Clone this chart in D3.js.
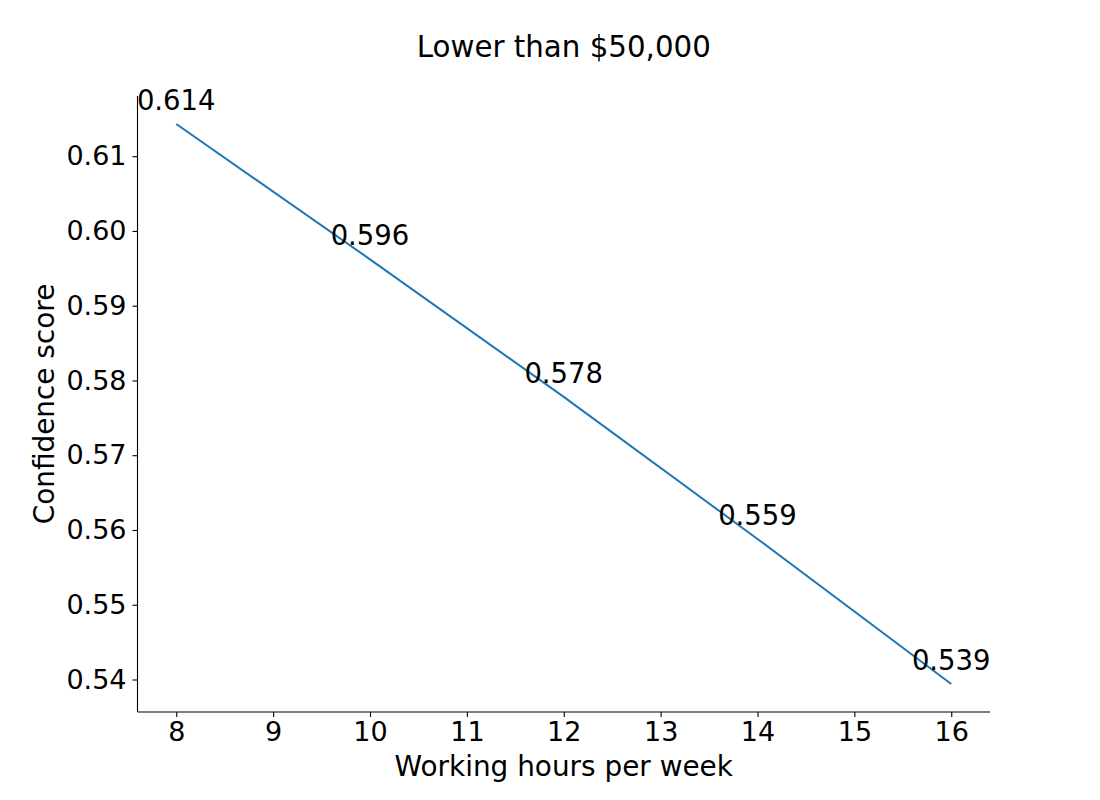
<!DOCTYPE html>
<html>
<head>
<meta charset="utf-8">
<script src="https://cdn.jsdelivr.net/npm/d3@7"></script>
<style>
  html, body { margin: 0; padding: 0; background: #fff; }
  text { font-family: "DejaVu Sans", sans-serif; fill: #000; }
</style>
</head>
<body>
<svg id="chart" width="1100" height="800"></svg>
<script>
const hours = [8, 10, 12, 14, 16];
const scores = [0.6143, 0.5962, 0.5778, 0.5588, 0.5394];
const xTicks = [8, 9, 10, 11, 12, 13, 14, 15, 16];
const yTicks = [0.54, 0.55, 0.56, 0.57, 0.58, 0.59, 0.60, 0.61];
const title = "Lower than $50,000";
const xLabel = "Working hours per week";
const yLabel = "Confidence score";

const W = 1100, H = 800;
const m = { left: 137.5, right: 990, top: 96, bottom: 712 };
const svg = d3.select("#chart");

const xMin = d3.min(hours), xMax = d3.max(hours);
const yMin = d3.min(scores), yMax = d3.max(scores);
const xPad = (xMax - xMin) * 0.05, yPad = (yMax - yMin) * 0.05;

const x = d3.scaleLinear().domain([xMin - xPad, xMax + xPad]).range([m.left, m.right]);
const y = d3.scaleLinear().domain([yMin - yPad, yMax + yPad]).range([m.bottom, m.top]);

// axes
const xAxis = svg.append("g").attr("transform", `translate(0,${m.bottom})`)
  .call(d3.axisBottom(x).tickValues(xTicks).tickFormat(d3.format("d")).tickSize(5).tickPadding(5));
const yAxis = svg.append("g").attr("transform", `translate(${m.left},0)`)
  .call(d3.axisLeft(y).tickValues(yTicks).tickFormat(d3.format(".2f")).tickSize(5).tickPadding(6));

[xAxis, yAxis].forEach(g => {
  g.select(".domain").attr("stroke", "#000").attr("stroke-width", 1.1);
  g.selectAll(".tick line").attr("stroke", "#000").attr("stroke-width", 1.1);
  g.selectAll(".tick text").attr("font-size", 27).attr("font-family", "DejaVu Sans").attr("fill", "#000");
});
xAxis.select(".domain").attr("d", `M${m.left},0H${m.right}`);
yAxis.select(".domain").attr("d", `M0,${m.bottom}V${m.top}`);

// line
const line = d3.line().x((d, i) => x(hours[i])).y(d => y(d));
svg.append("path").datum(scores)
  .attr("d", line)
  .attr("fill", "none")
  .attr("stroke", "#1f77b4")
  .attr("stroke-width", 2);

// value labels
svg.append("g").selectAll("text").data(scores).join("text")
  .attr("x", (d, i) => x(hours[i]))
  .attr("y", d => y(d))
  .attr("dy", -14)
  .attr("text-anchor", "middle")
  .attr("font-size", 27.5)
  .text(d => d3.format(".3f")(d));

// title
svg.append("text")
  .attr("x", (m.left + m.right) / 2).attr("y", 57)
  .attr("text-anchor", "middle").attr("font-size", 29.3)
  .text(title);

// x label
svg.append("text")
  .attr("x", (m.left + m.right) / 2).attr("y", 776)
  .attr("text-anchor", "middle").attr("font-size", 27.9)
  .text(xLabel);

// y label
svg.append("text")
  .attr("transform", `translate(54,${(m.top + m.bottom) / 2}) rotate(-90)`)
  .attr("text-anchor", "middle").attr("font-size", 27.9)
  .text(yLabel);
</script>
</body>
</html>
